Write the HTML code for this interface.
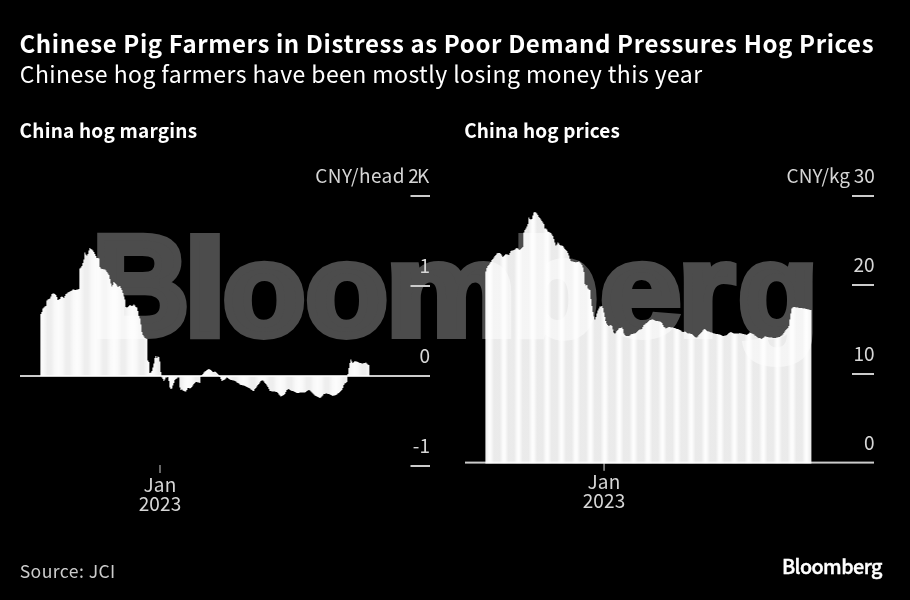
<!DOCTYPE html>
<html lang="en"><head><meta charset="utf-8"><title>Chinese Pig Farmers in Distress as Poor Demand Pressures Hog Prices</title>
<style>
html,body{margin:0;padding:0;background:#000;}
body{width:910px;height:600px;overflow:hidden;position:relative;}
svg{position:absolute;left:0;top:0;display:block;}
text{font-family:"Noto Sans CJK SC","Liberation Sans",sans-serif;}
.t{font-size:24px;font-weight:700;fill:#fff;letter-spacing:0.6px;}
.s{font-size:23px;font-weight:400;fill:#fff;letter-spacing:0.43px;}
.h{font-size:19px;font-weight:700;fill:#fff;letter-spacing:0.22px;}
.a{font-size:19px;font-weight:400;fill:#d6d6d6;letter-spacing:0.1px;}
.src{font-size:17.6px;font-weight:400;fill:#ccc;letter-spacing:0.42px;}
.wm,.wo{font-family:"Liberation Sans",sans-serif;font-weight:700;font-size:129px;stroke-width:8px;stroke-linejoin:miter;}
.wm{fill:#4c4c4c;stroke:#4c4c4c;}
.wo{fill:#fff;stroke:#fff;}
.logo{font-size:19.8px;font-weight:500;fill:#fff;stroke:#fff;stroke-width:0.45px;letter-spacing:-0.55px;}
</style></head>
<body>
<svg width="910" height="600" viewBox="0 0 910 600">
<defs>
<linearGradient id="st" x1="0" y1="0" x2="14.4" y2="0" gradientUnits="userSpaceOnUse" spreadMethod="repeat">
<stop offset="0" stop-color="#fff" stop-opacity="0.995"/>
<stop offset="0.1" stop-color="#fff" stop-opacity="0.98"/>
<stop offset="0.3" stop-color="#fff" stop-opacity="0.92"/>
<stop offset="0.7" stop-color="#fff" stop-opacity="0.92"/>
<stop offset="0.9" stop-color="#fff" stop-opacity="0.98"/>
<stop offset="1" stop-color="#fff" stop-opacity="0.995"/>
</linearGradient>
<linearGradient id="sl" x1="3" y1="0" x2="21.5" y2="0" gradientUnits="userSpaceOnUse" spreadMethod="repeat">
<stop offset="0" stop-color="#fff" stop-opacity="0.99"/>
<stop offset="0.2" stop-color="#fff" stop-opacity="0.975"/>
<stop offset="0.4" stop-color="#fff" stop-opacity="0.935"/>
<stop offset="0.6" stop-color="#fff" stop-opacity="0.935"/>
<stop offset="0.8" stop-color="#fff" stop-opacity="0.975"/>
<stop offset="1" stop-color="#fff" stop-opacity="0.99"/>
</linearGradient>
<path id="lp" d="M40.4,376V314H41.4V312H42.4V308.5H43.4V307.5H44.4V306.5H45.4V306H46.4V300.5H47.4V299.5H48.4V299H49.4V298.5H50.4V296.5H51.4V294H52.4V293.5H53.4V293.5H54.4V294H55.4V295H56.4V297H57.4V300H58.4V299.5H59.4V299H60.4V297H61.4V296.5H62.4V297H63.4V298H64.4V296H65.4V294H66.4V293.5H67.4V292.5H68.4V292H69.4V291.5H70.4V291H71.4V290.5H72.4V289.5H73.4V289.5H74.4V290H75.4V290H76.4V289.5H77.4V289.5H78.4V289H79.4V268.5H80.4V267.5H81.4V266H82.4V263H83.4V259.5H84.4V252.5H85.4V254.5H86.4V255.5H87.4V254H88.4V250.5H89.4V248H90.4V249H91.4V249.5H92.4V250.5H93.4V252H94.4V254H95.4V256H96.4V258H97.4V258H98.4V258.5H99.4V267H100.4V268.5H101.4V269H102.4V269H103.4V269.5H104.4V269.5H105.4V270.5H106.4V272H107.4V273.5H108.4V275H109.4V279H110.4V283.5H111.4V286.5H112.4V285H113.4V282H114.4V283H115.4V284H116.4V285.5H117.4V287H118.4V286.5H119.4V286H120.4V288H121.4V290H122.4V293H123.4V296.5H124.4V299.5H125.4V307H126.4V307.5H127.4V307H128.4V306H129.4V305H130.4V305.5H131.4V306H132.4V305.5H133.4V304.5H134.4V305.5H135.4V307H136.4V307.5H137.4V311H138.4V316H139.4V318.5H140.4V324.5H141.4V332H142.4V335H143.4V336.5H144.4V338H145.4V338.5H146.4V339H147.4V360.5H148.4V362H149.4V373H150.4V372.5H151.4V371H152.4V367.5H153.4V363.5H154.4V358H155.4V356H156.4V358H157.4V356.5H158.4V357H159.4V361.5H160.4V372H161.4V377.5H162.4V379H163.4V381H164.4V379.5H165.4V377.5H166.4V377.5H167.4V377H168.4V381H169.4V387.5H170.4V389H171.4V388.5H172.4V385.5H173.4V383H174.4V380H175.4V379H176.4V378.5H177.4V377.5H178.4V377.5H179.4V387.5H180.4V390H181.4V389.5H182.4V390.5H183.4V391H184.4V391.5H185.4V391.5H186.4V390H187.4V388H188.4V388H189.4V388.5H190.4V388H191.4V387H192.4V385.5H193.4V384H194.4V383H195.4V382H196.4V382H197.4V382.5H198.4V382.5H199.4V383H200.4V376.5H201.4V375H202.4V374H203.4V372.5H204.4V371.5H205.4V371H206.4V370H207.4V369.5H208.4V369H209.4V369.5H210.4V370H211.4V371H212.4V372H213.4V372H214.4V371.5H215.4V372H216.4V373H217.4V374H218.4V375H219.4V377H220.4V379H221.4V381H222.4V380.5H223.4V380H224.4V379.5H225.4V378.5H226.4V377.5H227.4V378H228.4V379H229.4V379.5H230.4V380H231.4V380H232.4V380.5H233.4V380.5H234.4V381H235.4V381.5H236.4V382.5H237.4V383H238.4V383.5H239.4V384.5H240.4V385H241.4V385H242.4V385.5H243.4V385.5H244.4V386H245.4V386.5H246.4V387H247.4V387.5H248.4V388H249.4V388.5H250.4V389.5H251.4V390H252.4V391H253.4V391H254.4V389H255.4V388H256.4V386.5H257.4V385H258.4V384H259.4V382.5H260.4V381H261.4V380.5H262.4V380.5H263.4V381.5H264.4V383H265.4V384H266.4V385.5H267.4V387H268.4V389H269.4V391H270.4V391H271.4V391.5H272.4V391.5H273.4V391.5H274.4V391.5H275.4V392H276.4V392H277.4V393H278.4V394.5H279.4V395.5H280.4V396.5H281.4V396H282.4V395.5H283.4V395H284.4V394H285.4V392H286.4V390H287.4V389.5H288.4V389H289.4V390H290.4V390.5H291.4V391H292.4V391H293.4V391.5H294.4V392H295.4V392.5H296.4V393H297.4V393H298.4V393H299.4V392.5H300.4V392.5H301.4V392.5H302.4V392.5H303.4V392.5H304.4V392.5H305.4V392H306.4V391H307.4V390.5H308.4V390H309.4V390.5H310.4V391.5H311.4V392.5H312.4V393.5H313.4V394.5H314.4V395.5H315.4V396H316.4V396.5H317.4V397H318.4V397.5H319.4V398H320.4V397.5H321.4V396.5H322.4V395.5H323.4V394H324.4V394H325.4V393.5H326.4V393.5H327.4V394H328.4V394H329.4V394.5H330.4V395H331.4V395.5H332.4V396H333.4V395.5H334.4V395.5H335.4V395H336.4V394.5H337.4V393.5H338.4V393H339.4V392H340.4V391H341.4V390H342.4V388H343.4V385H344.4V383.5H345.4V383H346.4V382H347.4V374H348.4V368H349.4V363H350.4V359.5H351.4V361.5H352.4V363H353.4V362H354.4V361H355.4V361.5H356.4V361.5H357.4V362H358.4V362.5H359.4V363H360.4V363H361.4V363.5H362.4V363.5H363.4V363H364.4V363H365.4V362.5H366.4V363.5H367.4V364.5H368.4V365H369.4V376Z"/>
<path id="rp" d="M485.4,463.6V271.5H486.4V268H487.4V266H488.4V265H489.4V263.5H490.4V262H491.4V260H492.4V259H493.4V257.5H494.4V256H495.4V255H496.4V253.5H497.4V253H498.4V253H499.4V253H500.4V254H501.4V255.5H502.4V257H503.4V256H504.4V255H505.4V254H506.4V254.5H507.4V254.5H508.4V255H509.4V253H510.4V251H511.4V250.5H512.4V250.5H513.4V250H514.4V249.5H515.4V248.5H516.4V248H517.4V248.5H518.4V249.5H519.4V250H520.4V249H521.4V248H522.4V247H523.4V232.5H524.4V230H525.4V228.5H526.4V226.5H527.4V224H528.4V217.5H529.4V219H530.4V219.5H531.4V219H532.4V215.5H533.4V212.5H534.4V212H535.4V212.5H536.4V213.5H537.4V215H538.4V217H539.4V218H540.4V219.5H541.4V221H542.4V222.5H543.4V224H544.4V228.5H545.4V228.5H546.4V229.5H547.4V231.5H548.4V232H549.4V232.5H550.4V233H551.4V234.5H552.4V236H553.4V239H554.4V242.5H555.4V245.5H556.4V244.5H557.4V242.5H558.4V243.5H559.4V245H560.4V245.5H561.4V245.5H562.4V246H563.4V247.5H564.4V249H565.4V250H566.4V251H567.4V253H568.4V255.5H569.4V259H570.4V261H571.4V261.5H572.4V261.5H573.4V262H574.4V262H575.4V262.5H576.4V262H577.4V262H578.4V261.5H579.4V262.5H580.4V263.5H581.4V265H582.4V267.5H583.4V272H584.4V284H585.4V285.5H586.4V285H587.4V288.5H588.4V289.5H589.4V290H590.4V299H591.4V306H592.4V312H593.4V316.5H594.4V319.5H595.4V317H596.4V313.5H597.4V310.5H598.4V308.5H599.4V306.5H600.4V306.5H601.4V306H602.4V308H603.4V312.5H604.4V317H605.4V321H606.4V323.5H607.4V325H608.4V326H609.4V325.5H610.4V325H611.4V326H612.4V329.5H613.4V332.5H614.4V333.5H615.4V332.5H616.4V331H617.4V330H618.4V328.5H619.4V328H620.4V328H621.4V327.5H622.4V329H623.4V333.5H624.4V335H625.4V336H626.4V336H627.4V336H628.4V336H629.4V335.5H630.4V334.5H631.4V334H632.4V334H633.4V333.5H634.4V333.5H635.4V333H636.4V332H637.4V331H638.4V330H639.4V329.5H640.4V329.5H641.4V329H642.4V327H643.4V325H644.4V324.5H645.4V323.5H646.4V323H647.4V322H648.4V321H649.4V320H650.4V320H651.4V319.5H652.4V319.5H653.4V320H654.4V320.5H655.4V321H656.4V321H657.4V321H658.4V321.5H659.4V321.5H660.4V322H661.4V323H662.4V325H663.4V327H664.4V327.5H665.4V328.5H666.4V328H667.4V327.5H668.4V327H669.4V327H670.4V327.5H671.4V327.5H672.4V327.5H673.4V328H674.4V328H675.4V328.5H676.4V329H677.4V329H678.4V329.5H679.4V330H680.4V330.5H681.4V331.5H682.4V332H683.4V332H684.4V331.5H685.4V332H686.4V333H687.4V333.5H688.4V333.5H689.4V333.5H690.4V334H691.4V334H692.4V335H693.4V336H694.4V337H695.4V337.5H696.4V337.5H697.4V336.5H698.4V335H699.4V334H700.4V333H701.4V332H702.4V330.5H703.4V329.5H704.4V329H705.4V330H706.4V331H707.4V331.5H708.4V331.5H709.4V332H710.4V332.5H711.4V332.5H712.4V333H713.4V333.5H714.4V333.5H715.4V334H716.4V334H717.4V334H718.4V334.5H719.4V334.5H720.4V335H721.4V335.5H722.4V336H723.4V336H724.4V335.5H725.4V335.5H726.4V335H727.4V334H728.4V333H729.4V332.5H730.4V332H731.4V332.5H732.4V333H733.4V333.5H734.4V333.5H735.4V333.5H736.4V333.5H737.4V333.5H738.4V333.5H739.4V333H740.4V333.5H741.4V333.5H742.4V334H743.4V334H744.4V334.5H745.4V334.5H746.4V335H747.4V334H748.4V333.5H749.4V332.5H750.4V333H751.4V333.5H752.4V334H753.4V334.5H754.4V335.5H755.4V336H756.4V337H757.4V337.5H758.4V338H759.4V338H760.4V338.5H761.4V339H762.4V338H763.4V337.5H764.4V336.5H765.4V336.5H766.4V337H767.4V337H768.4V337.5H769.4V337.5H770.4V337.5H771.4V337.5H772.4V338H773.4V338H774.4V338H775.4V338H776.4V337.5H777.4V337.5H778.4V337H779.4V337H780.4V336H781.4V335.5H782.4V334.5H783.4V333H784.4V331.5H785.4V330H786.4V329H787.4V328H788.4V326H789.4V319.5H790.4V313.5H791.4V308.5H792.4V307.5H793.4V307H794.4V307H795.4V307.5H796.4V307.5H797.4V307.5H798.4V308H799.4V308H800.4V308H801.4V308H802.4V308.5H803.4V308.5H804.4V308.5H805.4V309H806.4V309H807.4V309.5H808.4V309.5H809.4V310H810.4V310H811.4V463.6Z"/>
<clipPath id="cl"><use href="#lp"/><use href="#rp"/></clipPath>
</defs>
<rect width="910" height="600" fill="#000"/>
<text class="wm" y="335.2"><tspan x="92.0" textLength="97.1" lengthAdjust="spacingAndGlyphs" style="font-size:143px">B</tspan><tspan x="183.9" textLength="42.1" lengthAdjust="spacingAndGlyphs" style="font-size:136px">l</tspan><tspan x="223.0" textLength="82.3" lengthAdjust="spacingAndGlyphs">o</tspan><tspan x="305.7" textLength="82.0" lengthAdjust="spacingAndGlyphs">o</tspan><tspan x="386.1" textLength="129.7" lengthAdjust="spacingAndGlyphs">m</tspan><tspan x="512.8" textLength="85.5" lengthAdjust="spacingAndGlyphs" style="font-size:136px">b</tspan><tspan x="600.4" textLength="80.3" lengthAdjust="spacingAndGlyphs">e</tspan><tspan x="678.2" textLength="56.0" lengthAdjust="spacingAndGlyphs">r</tspan><tspan x="738.6" textLength="79.1" lengthAdjust="spacingAndGlyphs">g</tspan></text>
<g fill="#cbcbcb">
<rect x="20" y="375" width="410" height="2"/>
<rect x="410.5" y="195" width="19.5" height="2"/>
<rect x="410.5" y="285" width="19.5" height="2"/>
<rect x="410.5" y="465" width="19.5" height="2"/>
<rect x="159.5" y="465" width="1" height="8"/>
<rect x="465" y="461.6" width="409" height="2"/>
<rect x="852" y="195" width="22" height="2"/>
<rect x="852" y="284" width="22" height="2"/>
<rect x="852" y="373" width="22" height="2"/>
<rect x="603.5" y="463" width="1.1" height="7.8"/>
</g>
<use href="#lp" fill="url(#sl)"/>
<use href="#rp" fill="url(#st)"/>
<g clip-path="url(#cl)" opacity="0.28"><text class="wo" y="335.2"><tspan x="92.0" textLength="97.1" lengthAdjust="spacingAndGlyphs" style="font-size:143px">B</tspan><tspan x="183.9" textLength="42.1" lengthAdjust="spacingAndGlyphs" style="font-size:136px">l</tspan><tspan x="223.0" textLength="82.3" lengthAdjust="spacingAndGlyphs">o</tspan><tspan x="305.7" textLength="82.0" lengthAdjust="spacingAndGlyphs">o</tspan><tspan x="386.1" textLength="129.7" lengthAdjust="spacingAndGlyphs">m</tspan><tspan x="512.8" textLength="85.5" lengthAdjust="spacingAndGlyphs" style="font-size:136px">b</tspan><tspan x="600.4" textLength="80.3" lengthAdjust="spacingAndGlyphs">e</tspan><tspan x="678.2" textLength="56.0" lengthAdjust="spacingAndGlyphs">r</tspan><tspan x="738.6" textLength="79.1" lengthAdjust="spacingAndGlyphs">g</tspan></text></g>
<text class="t" x="19.5" y="53.4">Chinese Pig Farmers in Distress as Poor Demand Pressures Hog Prices</text>
<text class="s" x="19.8" y="82.8">Chinese hog farmers have been mostly losing money this year</text>
<text class="h" x="19.6" y="137.6" transform="translate(0,137.6) scale(1,1.047) translate(0,-137.6)">China hog margins</text>
<text class="h" x="464.2" y="137.6" style="letter-spacing:0.12px" transform="translate(0,137.6) scale(1,1.047) translate(0,-137.6)">China hog prices</text>
<text class="a" x="315.15" y="182.6" style="letter-spacing:0.454px">CNY/head <tspan dx="-1.4" style="letter-spacing:-1.9px">2</tspan>K</text>
<text class="a" x="430" y="272.6" text-anchor="end" style="letter-spacing:0">1</text>
<text class="a" x="430" y="362.6" text-anchor="end" style="letter-spacing:0">0</text>
<text class="a" x="430" y="452.6" text-anchor="end" style="letter-spacing:0">-1</text>
<text class="a" x="874.7" y="182.6" text-anchor="end"><tspan style="letter-spacing:0.17px">CNY/</tspan><tspan style="letter-spacing:-0.14px">kg 30</tspan></text>
<text class="a" x="874.5" y="271.6" text-anchor="end" style="letter-spacing:0">20</text>
<text class="a" x="874.5" y="360.6" text-anchor="end" style="letter-spacing:0">10</text>
<text class="a" x="874.5" y="449.6" text-anchor="end" style="letter-spacing:0">0</text>
<text class="a" x="160" y="491.8" text-anchor="middle">Jan</text>
<text class="a" x="160" y="510.8" text-anchor="middle">2023</text>
<text class="a" x="604" y="488.8" text-anchor="middle">Jan</text>
<text class="a" x="604" y="507.8" text-anchor="middle">2023</text>
<text class="src" x="19.7" y="577.6">Source: JCI</text>
<text class="logo" x="781.9" y="574.4">Bloomberg</text>
</svg>
</body></html>
